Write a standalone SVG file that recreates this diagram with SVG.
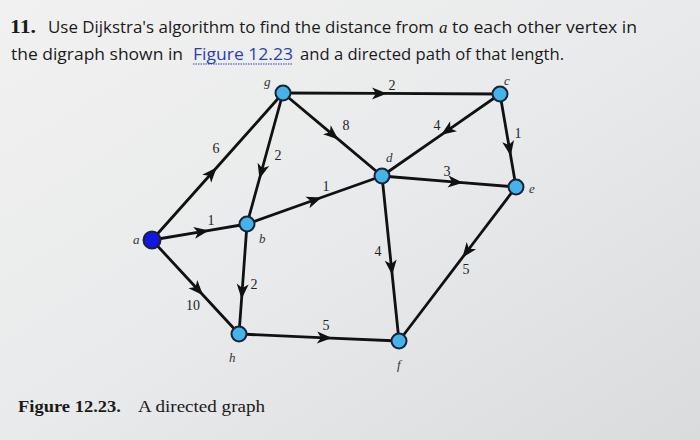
<svg xmlns="http://www.w3.org/2000/svg" width="700" height="440" viewBox="0 0 700 440">
<defs>
<linearGradient id="bg" x1="0" y1="0" x2="1" y2="1">
<stop offset="0" stop-color="#f1f1f1"/>
<stop offset="0.5" stop-color="#e9eaeb"/>
<stop offset="1" stop-color="#d9dbdd"/>
</linearGradient>
<marker id="arr" markerUnits="userSpaceOnUse" viewBox="-10 -7 18 14" markerWidth="18" markerHeight="14" refX="0" refY="0" orient="auto">
<path d="M7,0 L-8,-6 L-4,0 L-8,6 Z" fill="#111"/>
</marker>
<style>
.hd{font-family:"Open Sans","Liberation Sans",sans-serif;font-size:17px;fill:#1a1a1a}
.e{fill:none;stroke:#111;stroke-width:2.8}
.n{fill:#45b2ea;stroke:#162436;stroke-width:2}
.nl{font-family:"Liberation Serif",serif;font-style:italic;font-size:13px;fill:#333}
.wl{font-family:"Liberation Serif",serif;font-size:14px;fill:#222;text-anchor:middle}
.cap{font-family:"Liberation Serif",serif;font-size:17px;fill:#1a1a1a}
</style>
</defs>
<rect width="700" height="440" fill="url(#bg)"/>
<g id="header">
<text class="hd" x="10" y="33" style="font-family:'Liberation Serif',serif;font-weight:bold;font-size:19px" textLength="26" lengthAdjust="spacingAndGlyphs">11.</text>
<text class="hd" x="48" y="33" textLength="386" lengthAdjust="spacingAndGlyphs">Use Dijkstra's algorithm to find the distance from</text>
<text class="hd" x="439" y="33" style="font-family:'Liberation Serif',serif;font-style:italic">a</text>
<text class="hd" x="452" y="33" textLength="185" lengthAdjust="spacingAndGlyphs">to each other vertex in</text>
<text class="hd" x="11" y="60" textLength="172" lengthAdjust="spacingAndGlyphs">the digraph shown in</text>
<text class="hd" x="193" y="60" textLength="100" lengthAdjust="spacingAndGlyphs" style="fill:#2b3fb0">Figure 12.23</text>
<line x1="193" y1="64" x2="293" y2="64" stroke="#2b3fb0" stroke-width="1" stroke-dasharray="1.5,1"/>
<text class="hd" x="300" y="60" textLength="264" lengthAdjust="spacingAndGlyphs">and a directed path of that length.</text>
</g>
<g id="connectors">
<path class="e" marker-mid="url(#arr)" d="M283,93 L380,93.45 L500,94"/>
<path class="e" marker-mid="url(#arr)" d="M283,93 L333,134.9 L382,176"/>
<path class="e" marker-mid="url(#arr)" d="M152,240 L212,172.7 L283,93"/>
<path class="e" marker-mid="url(#arr)" d="M283,93 L261.3,172 L247,224"/>
<path class="e" marker-mid="url(#arr)" d="M247,224 L315,199.8 L382,176"/>
<path class="e" marker-mid="url(#arr)" d="M152,240 L202,231.6 L247,224"/>
<path class="e" marker-mid="url(#arr)" d="M500,94 L447,130.8 L382,176"/>
<path class="e" marker-mid="url(#arr)" d="M500,94 L509.5,149 L516,187"/>
<path class="e" marker-mid="url(#arr)" d="M382,176 L456,182.1 L516,187"/>
<path class="e" marker-mid="url(#arr)" d="M382,176 L391.5,268 L399,341"/>
<path class="e" marker-mid="url(#arr)" d="M516,187 L466.6,252 L399,341"/>
<path class="e" marker-mid="url(#arr)" d="M152,240 L198.3,290 L239,334"/>
<path class="e" marker-mid="url(#arr)" d="M247,224 L242.1,292 L239,334"/>
<path class="e" marker-mid="url(#arr)" d="M239,334 L325,337.8 L399,341"/>
</g>
<g id="weights">
<text class="wl" x="392" y="90">2</text>
<text class="wl" x="346" y="130">8</text>
<text class="wl" x="216" y="153">6</text>
<text class="wl" x="278" y="160">2</text>
<text class="wl" x="326" y="191">1</text>
<text class="wl" x="211" y="225">1</text>
<text class="wl" x="437" y="130">4</text>
<text class="wl" x="518" y="138">1</text>
<text class="wl" x="447" y="176">3</text>
<text class="wl" x="378" y="256">4</text>
<text class="wl" x="466" y="274">5</text>
<text class="wl" x="193" y="310">10</text>
<text class="wl" x="254" y="289">2</text>
<text class="wl" x="326" y="330">5</text>
</g>
<g id="node-g"><circle class="n" cx="283" cy="93" r="7.5"/><text class="nl" x="264" y="86">g</text></g>
<g id="node-c"><circle class="n" cx="500" cy="94" r="7.5"/><text class="nl" x="504" y="85">c</text></g>
<g id="node-d"><circle class="n" cx="382" cy="176" r="7.5"/><text class="nl" x="386" y="162">d</text></g>
<g id="node-e"><circle class="n" cx="516" cy="187" r="7.5"/><text class="nl" x="529" y="193">e</text></g>
<g id="node-b"><circle class="n" cx="247" cy="224" r="7.5"/><text class="nl" x="259" y="243">b</text></g>
<g id="node-a"><circle class="n" cx="152" cy="240" r="8.5" style="fill:#1414e6"/><text class="nl" x="133" y="244">a</text></g>
<g id="node-h"><circle class="n" cx="239" cy="334" r="7.5"/><text class="nl" x="229" y="362">h</text></g>
<g id="node-f"><circle class="n" cx="399" cy="341" r="7.5"/><text class="nl" x="397" y="369">f</text></g>
<g id="caption">
<text class="cap" x="18" y="412" font-weight="bold" textLength="103" lengthAdjust="spacingAndGlyphs">Figure 12.23.</text>
<text class="cap" x="138" y="412" textLength="127" lengthAdjust="spacingAndGlyphs">A directed graph</text>
</g>
</svg>
